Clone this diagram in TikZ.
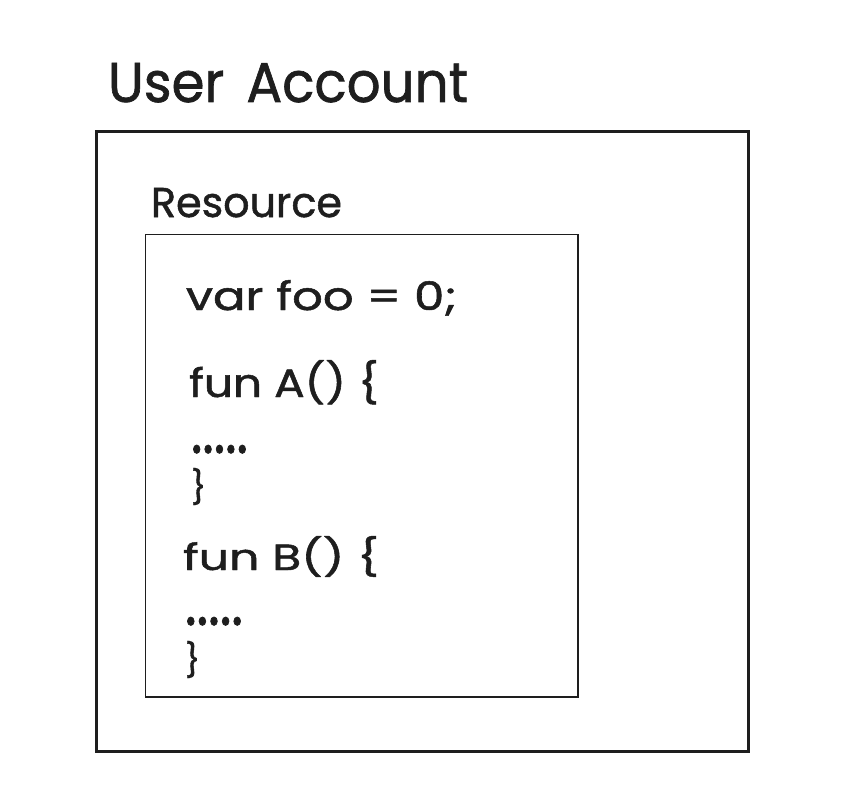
\documentclass[tikz,border=0pt]{standalone}
\usepackage{fontspec}
\setmainfont{Poppins}[FakeBold=1.2]
\usepackage{graphicx}
\definecolor{ink}{HTML}{1E1E1E}
\newcommand{\fitt}[3]{\resizebox{#1pt}{#2pt}{#3}}
\begin{document}
\begin{tikzpicture}[x=1pt,y=-1pt,
  txt/.style={inner sep=0pt, outer sep=0pt, text=ink, anchor=base west},
  brc/.style={inner sep=0pt, outer sep=0pt, text=ink, anchor=south west},
  boxframe/.style={draw=ink, inner sep=0pt, outer sep=0pt, anchor=north west}]
\useasboundingbox[fill=white] (0,0) rectangle (844,808);
\node[boxframe, line width=3pt, minimum width=652pt, minimum height=620pt] (account) at (96.5,131.5) {};
\node[boxframe, line width=1.4pt, minimum width=432.5pt, minimum height=462.5pt] (resbox) at (145.5,234.5) {};
\node[txt] (title) at (108,102) {\fitt{360}{39}{User\hspace{0.15em} Account}};
\node[txt] (resource) at (151,217) {\fitt{191}{29}{Resource}};
\node[txt] (l1) at (186,310) {\fitt{271}{30}{var foo = 0;}};
\node[txt] (l2) at (189,397) {\fitt{190}{37}{fun A() \{}};
\node[txt] (l3) at (191,453) {\fitt{57}{8}{.....}};
\node[brc] (l4) at (191,505) {\resizebox*{!}{37pt}{\}}};
\node[txt] (l5) at (183,570) {\fitt{196}{34}{fun B() \{}};
\node[txt] (l6) at (185,625) {\fitt{58}{8}{.....}};
\node[brc] (l7) at (185,678) {\resizebox*{!}{37pt}{\}}};
\end{tikzpicture}
\end{document}
